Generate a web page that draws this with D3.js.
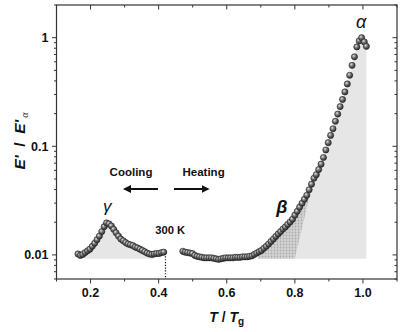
<!DOCTYPE html>
<html>
<head>
<meta charset="utf-8">
<script src="https://cdn.jsdelivr.net/npm/d3@7"></script>
<style>
  body { margin: 0; background: #fff; }
  text { font-family: "Liberation Sans", Arial, sans-serif; }
</style>
</head>
<body>
<div id="chart"></div>
<script>
// gamma relaxation branch (cooling)
var gammaT = [0.163, 0.170, 0.177, 0.184, 0.191, 0.198, 0.205, 0.212, 0.219, 0.226,
              0.233, 0.240, 0.247, 0.254, 0.261, 0.268, 0.275, 0.282, 0.289, 0.296,
              0.303, 0.310, 0.317, 0.324, 0.331, 0.338, 0.345, 0.352, 0.359, 0.366,
              0.373, 0.380, 0.387, 0.394, 0.401, 0.408, 0.415];
var gammaE = [0.0102, 0.0099, 0.0101, 0.0105, 0.0109, 0.0113, 0.0120, 0.0128, 0.0138, 0.0149,
              0.0164, 0.0182, 0.0197, 0.0193, 0.0185, 0.0172, 0.0160, 0.0149, 0.0140, 0.0135,
              0.0130, 0.0126, 0.0124, 0.0122, 0.0118, 0.0116, 0.0113, 0.0110, 0.0107, 0.0104,
              0.0102, 0.0101, 0.0102, 0.0103, 0.0103, 0.0105, 0.0106];

// heating branch (beta + alpha)
var mainT = [0.471, 0.478, 0.485, 0.492, 0.499, 0.506, 0.513, 0.520, 0.527, 0.534,
             0.541, 0.548, 0.555, 0.562, 0.569, 0.576, 0.583, 0.590, 0.597, 0.604,
             0.611, 0.618, 0.625, 0.632, 0.639, 0.646, 0.653, 0.660, 0.667, 0.674,
             0.681, 0.688, 0.695, 0.702, 0.709, 0.716, 0.723, 0.730, 0.737, 0.744,
             0.751, 0.758, 0.765, 0.772, 0.779, 0.786, 0.793, 0.800, 0.807, 0.814,
             0.821, 0.828, 0.835, 0.842, 0.849, 0.856, 0.863, 0.870, 0.877, 0.884,
             0.891, 0.898, 0.905, 0.912, 0.919, 0.926, 0.933, 0.940, 0.947, 0.954,
             0.961, 0.968, 0.975, 0.982, 0.989, 0.996, 1.004, 1.010];
var mainE = [0.0108, 0.0106, 0.0105, 0.0104, 0.0103, 0.0099, 0.0097, 0.0096, 0.0095, 0.0094,
             0.0094, 0.0094, 0.0094, 0.0093, 0.0092, 0.0091, 0.0092, 0.0093, 0.0094, 0.0094,
             0.0094, 0.0094, 0.0095, 0.0095, 0.0095, 0.0096, 0.0096, 0.0096, 0.0097, 0.0098,
             0.0101, 0.0104, 0.0107, 0.0110, 0.0115, 0.0120, 0.0126, 0.0133, 0.0140, 0.0148,
             0.0156, 0.0164, 0.0173, 0.0181, 0.0191, 0.0201, 0.0213, 0.0232, 0.0252, 0.0275,
             0.0299, 0.0325, 0.0354, 0.0398, 0.0448, 0.0508, 0.0548, 0.0611, 0.0685, 0.0789,
             0.0925, 0.108, 0.126, 0.145, 0.170, 0.198, 0.232, 0.270, 0.317, 0.375,
             0.451, 0.557, 0.667, 0.822, 0.935, 1.0, 0.914, 0.832];

var xTicks = [0.2, 0.4, 0.6, 0.8, 1.0];
var xMinor = [0.1, 0.3, 0.5, 0.7, 0.9, 1.1];
var yTicks = [0.01, 0.1, 1];
var yTickLabels = ["0.01", "0.1", "1"];

// shading limits
var shadeBase = 0.0092;
var gammaShade = [0.18, 0.39];
var betaStart = 0.69, alphaFoot = 0.80, alphaMeet = 0.856;
var roomTempT = 0.42;

var W = 400, H = 332;
var margin = {top: 5, right: 3, bottom: 53, left: 56.5};
var ink = "#111";

var svg = d3.select("#chart").append("svg")
  .attr("width", W).attr("height", H);

var x = d3.scaleLinear().domain([0.1, 1.1]).range([margin.left, W - margin.right]);
var y = d3.scaleLog().domain([0.006, 2]).range([H - margin.bottom, margin.top]);

var defs = svg.append("defs");
var grad = defs.append("radialGradient").attr("id", "ball")
  .attr("cx", "38%").attr("cy", "35%").attr("r", "65%");
grad.append("stop").attr("offset", "0%").attr("stop-color", "#e6e6e6");
grad.append("stop").attr("offset", "40%").attr("stop-color", "#7e7e7e");
grad.append("stop").attr("offset", "100%").attr("stop-color", "#262626");

var pat = defs.append("pattern").attr("id", "dots")
  .attr("width", 3).attr("height", 3).attr("patternUnits", "userSpaceOnUse");
pat.append("rect").attr("width", 3).attr("height", 3).attr("fill", "#d4d4d4");
pat.append("circle").attr("cx", 1.5).attr("cy", 1.5).attr("r", 0.9).attr("fill", "#acacac");

var gamma = gammaT.map(function(t, i) { return {t: t, e: gammaE[i]}; });
var main = mainT.map(function(t, i) { return {t: t, e: mainE[i]}; });

var area = d3.area()
  .x(function(d) { return x(d.t); })
  .y0(y(shadeBase))
  .y1(function(d) { return y(d.e); });

// gamma shading
svg.append("path")
  .datum(gamma.filter(function(d) { return d.t >= gammaShade[0] && d.t <= gammaShade[1]; }))
  .attr("fill", "#e6e6e6")
  .attr("d", area);

// alpha shading: foot line then along the curve
var alphaPts = [{t: alphaFoot, e: shadeBase}]
  .concat(main.filter(function(d) { return d.t >= alphaMeet; }))
  .concat([{t: mainT[mainT.length - 1], e: shadeBase}]);
var poly = d3.line().x(function(d) { return x(d.t); }).y(function(d) { return y(d.e); });
svg.append("path")
  .attr("fill", "#e6e6e6")
  .attr("d", poly(alphaPts) + "Z");

// beta shading between curve and alpha foot line
var betaPts = [{t: betaStart, e: shadeBase}]
  .concat(main.filter(function(d) { return d.t >= betaStart && d.t <= alphaMeet; }))
  .concat([{t: alphaFoot, e: shadeBase}]);
svg.append("path")
  .attr("fill", "url(#dots)")
  .attr("d", poly(betaPts) + "Z");

// 300 K marker
svg.append("line")
  .attr("x1", x(roomTempT)).attr("x2", x(roomTempT))
  .attr("y1", y(0.0097)).attr("y2", y(0.006))
  .attr("stroke", ink).attr("stroke-width", 1.2)
  .attr("stroke-dasharray", "1.2,1.6");

// markers
svg.append("g").selectAll("circle")
  .data(gamma.concat(main))
  .enter().append("circle")
    .attr("cx", function(d) { return x(d.t); })
    .attr("cy", function(d) { return y(d.e); })
    .attr("r", 3.1)
    .attr("fill", "url(#ball)")
    .attr("stroke", "#262626")
    .attr("stroke-width", 0.6);

// axes
var x0 = margin.left, x1 = W - margin.right, y0 = H - margin.bottom, y1 = margin.top;
var frame = svg.append("g").attr("stroke", "#333").attr("fill", "none");
frame.append("rect").attr("x", x0).attr("y", y1).attr("width", x1 - x0).attr("height", y0 - y1)
  .attr("stroke-width", 1.2);

var yMinor = [];
[0.001, 0.01, 0.1, 1].forEach(function(dec) {
  for (var k = 2; k <= 9; k++) {
    var v = dec * k;
    if (v >= 0.006 && v <= 2.0001) yMinor.push(v);
  }
});

function tick(x1_, y1_, x2_, y2_) {
  frame.append("line").attr("x1", x1_).attr("y1", y1_).attr("x2", x2_).attr("y2", y2_)
    .attr("stroke-width", 1);
}
xTicks.forEach(function(v) {
  tick(x(v), y0, x(v), y0 + 4.5);
  tick(x(v), y1, x(v), y1 + 4.5);
});
xMinor.forEach(function(v) {
  tick(x(v), y0, x(v), y0 + 2.5);
  tick(x(v), y1, x(v), y1 + 2.5);
});
yTicks.forEach(function(v) {
  tick(x0 - 4.5, y(v), x0, y(v));
  tick(x1 - 4.5, y(v), x1, y(v));
});
yMinor.forEach(function(v) {
  tick(x0 - 2.5, y(v), x0, y(v));
  tick(x1 - 2.5, y(v), x1, y(v));
});

svg.append("g").selectAll("text")
  .data(xTicks).enter().append("text")
    .attr("x", function(d) { return x(d); })
    .attr("y", y0 + 18)
    .attr("text-anchor", "middle")
    .attr("font-size", 12.5).attr("font-weight", "bold").attr("fill", ink)
    .text(function(d) { return d3.format(".1f")(d); });

svg.append("g").selectAll("text")
  .data(yTicks).enter().append("text")
    .attr("x", x0 - 8)
    .attr("y", function(d) { return y(d) + 4.5; })
    .attr("text-anchor", "end")
    .attr("font-size", 12.5).attr("font-weight", "bold").attr("fill", ink)
    .text(function(d, i) { return yTickLabels[i]; });

// axis titles
var xt = svg.append("text")
  .attr("x", (x0 + x1) / 2).attr("y", 322)
  .attr("text-anchor", "middle")
  .attr("font-size", 14).attr("font-weight", "bold").attr("fill", ink);
xt.append("tspan").attr("font-style", "italic").text("T");
xt.append("tspan").text(" / ");
xt.append("tspan").attr("font-style", "italic").text("T");
xt.append("tspan").attr("font-size", 10).attr("dy", 3).text("g");

var yt = svg.append("text")
  .attr("transform", "translate(25," + 141 + ") rotate(-90)")
  .attr("text-anchor", "middle")
  .attr("font-size", 15.5).attr("font-weight", "bold").attr("fill", ink);
yt.append("tspan").attr("font-style", "italic").text("E'");
yt.append("tspan").text("\u2009/\u2009");
yt.append("tspan").attr("font-style", "italic").text("E'");
yt.append("tspan").attr("font-size", 10).attr("font-weight", "normal").attr("dy", 3).attr("dx", 2)
  .attr("font-family", "Liberation Serif, serif").attr("font-style", "italic").text("α");
yt.select("tspan:nth-child(2)").attr("xml:space", "preserve").text("  /  ");
svg.selectAll("text").attr("xml:space", "preserve");

// annotations
function label(txt, px, py, size) {
  svg.append("text").attr("x", px).attr("y", py)
    .attr("font-size", size).attr("font-weight", "bold").attr("fill", ink)
    .text(txt);
}
label("Cooling", x(0.256), 176, 11.5);
label("Heating", x(0.470), 176, 11.5);
label("300 K", x(0.390), 234, 11.2);

function greek(txt, px, py, size, bold) {
  svg.append("text").attr("x", px).attr("y", py)
    .attr("text-anchor", "middle")
    .attr("font-family", "Liberation Serif, serif").attr("font-style", "italic")
    .attr("font-weight", bold ? "bold" : "normal")
    .attr("font-size", size).attr("fill", ink).text(txt);
}
greek("γ", x(0.249), 212, 17, false);
greek("β", x(0.762), 213, 18, true);
greek("α", x(0.995), 28, 18, false);

// arrows
defs.append("marker").attr("id", "head")
  .attr("viewBox", "0 0 10 10").attr("refX", 8).attr("refY", 5)
  .attr("markerWidth", 4).attr("markerHeight", 4).attr("orient", "auto")
  .append("path").attr("d", "M0,0 L10,5 L0,10 Z").attr("fill", ink);
svg.append("line")
  .attr("x1", x(0.398)).attr("x2", x(0.300)).attr("y1", 189).attr("y2", 189)
  .attr("stroke", ink).attr("stroke-width", 2).attr("marker-end", "url(#head)");
svg.append("line")
  .attr("x1", x(0.445)).attr("x2", x(0.545)).attr("y1", 189).attr("y2", 189)
  .attr("stroke", ink).attr("stroke-width", 2).attr("marker-end", "url(#head)");
</script>
</body>
</html>
